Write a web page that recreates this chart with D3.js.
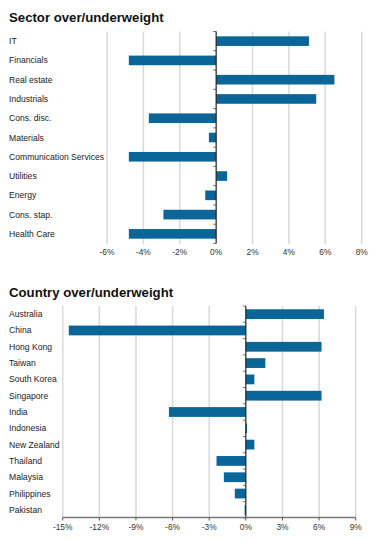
<!DOCTYPE html>
<html><head><meta charset="utf-8">
<script src="https://cdn.jsdelivr.net/npm/d3@7/dist/d3.min.js"></script>
<style>
body{margin:0;background:#fff;}
svg{display:block;font-family:"Liberation Sans",Arial,sans-serif;}
</style></head>
<body><svg id="c" width="376" height="541"></svg>
<script>
const sectorCats = ["IT","Financials","Real estate","Industrials","Cons. disc.","Materials","Communication Services","Utilities","Energy","Cons. stap.","Health Care"];
const sectorVals = [5.1,-4.8,6.5,5.5,-3.7,-0.4,-4.8,0.6,-0.6,-2.9,-4.8];
const sectorTicks = [-6,-4,-2,0,2,4,6,8];

const countryCats = ["Australia","China","Hong Kong","Taiwan","South Korea","Singapore","India","Indonesia","New Zealand","Thailand","Malaysia","Philippines","Pakistan"];
const countryVals = [6.4,-14.5,6.2,1.6,0.7,6.2,-6.3,0.1,0.7,-2.4,-1.8,-0.9,-0.1];
const countryTicks = [-15,-12,-9,-6,-3,0,3,6,9];

const svg = d3.select("#c");
const barColor = "#0a6699";

function panel(opt){
  const g = svg.append("g");
  g.append("text").attr("x",9).attr("y",opt.titleY).attr("font-size",13.2).attr("font-weight","bold")
    .attr("fill","#111").text(opt.title);
  const x = d3.scaleLinear().domain(opt.domain).range([opt.x0,opt.x1]);
  const y = d3.scaleBand().domain(opt.cats).range([opt.y0,opt.y1]).paddingInner(opt.pad).paddingOuter(opt.pad/2);
  // gridlines
  g.selectAll("line.grid").data(opt.ticks.filter(t=>t!==0)).enter().append("line")
    .attr("x1",d=>x(d)).attr("x2",d=>x(d)).attr("y1",opt.y0).attr("y2",opt.gridBottom)
    .attr("stroke","#d9d9d9").attr("stroke-width",1.5);
  // bars
  g.selectAll("rect").data(opt.cats).enter().append("rect")
    .attr("x",(d,i)=>x(Math.min(0,opt.vals[i])))
    .attr("width",(d,i)=>Math.abs(x(opt.vals[i])-x(0)))
    .attr("y",d=>y(d)).attr("height",y.bandwidth()).attr("fill",barColor);
  // category labels
  g.selectAll("text.cat").data(opt.cats).enter().append("text")
    .attr("x",9).attr("y",d=>y(d)+y.bandwidth()/2).attr("dy","0.35em")
    .attr("font-size",8.6).attr("fill","#222").text(d=>d);
  // zero axis with ticks at band boundaries
  const bounds = opt.cats.map(c=>y(c)-y.step()*opt.pad/2).concat([opt.y1]);
  g.selectAll("line.yt").data(bounds).enter().append("line")
    .attr("x1",x(0)-3).attr("x2",x(0)).attr("y1",d=>d).attr("y2",d=>d)
    .attr("stroke","#777").attr("stroke-width",1);
  g.append("line").attr("x1",x(0)).attr("x2",x(0)).attr("y1",opt.y0).attr("y2",opt.y1)
    .attr("stroke","#222").attr("stroke-width",1.2);
  // x axis
  if(opt.axisLine){
    g.append("line").attr("x1",opt.x0).attr("x2",opt.x1).attr("y1",opt.axisY).attr("y2",opt.axisY)
      .attr("stroke","#777").attr("stroke-width",1.3);
    g.selectAll("line.xt").data(opt.ticks).enter().append("line")
      .attr("x1",d=>x(d)).attr("x2",d=>x(d)).attr("y1",opt.axisY).attr("y2",opt.axisY+3)
      .attr("stroke","#555");
  }
  g.selectAll("text.tick").data(opt.ticks).enter().append("text")
    .attr("x",d=>x(d)).attr("y",opt.tickY).attr("text-anchor","middle").attr("dy","0.35em")
    .attr("font-size",8.4).attr("fill","#333").text(d=>d+"%");
}

panel({title:"Sector over/underweight",titleY:22,cats:sectorCats,vals:sectorVals,ticks:sectorTicks,
  domain:[-6,8],x0:107,x1:361.7,y0:31.5,y1:243.5,pad:0.5,gridBottom:244,tickY:252.5,axisLine:false});
panel({title:"Country over/underweight",titleY:297,cats:countryCats,vals:countryVals,ticks:countryTicks,
  domain:[-15,9],x0:62.7,x1:355.7,y0:306,y1:518,pad:0.4,gridBottom:517,axisLine:true,axisY:517.5,tickY:527.5});
</script></body></html>
